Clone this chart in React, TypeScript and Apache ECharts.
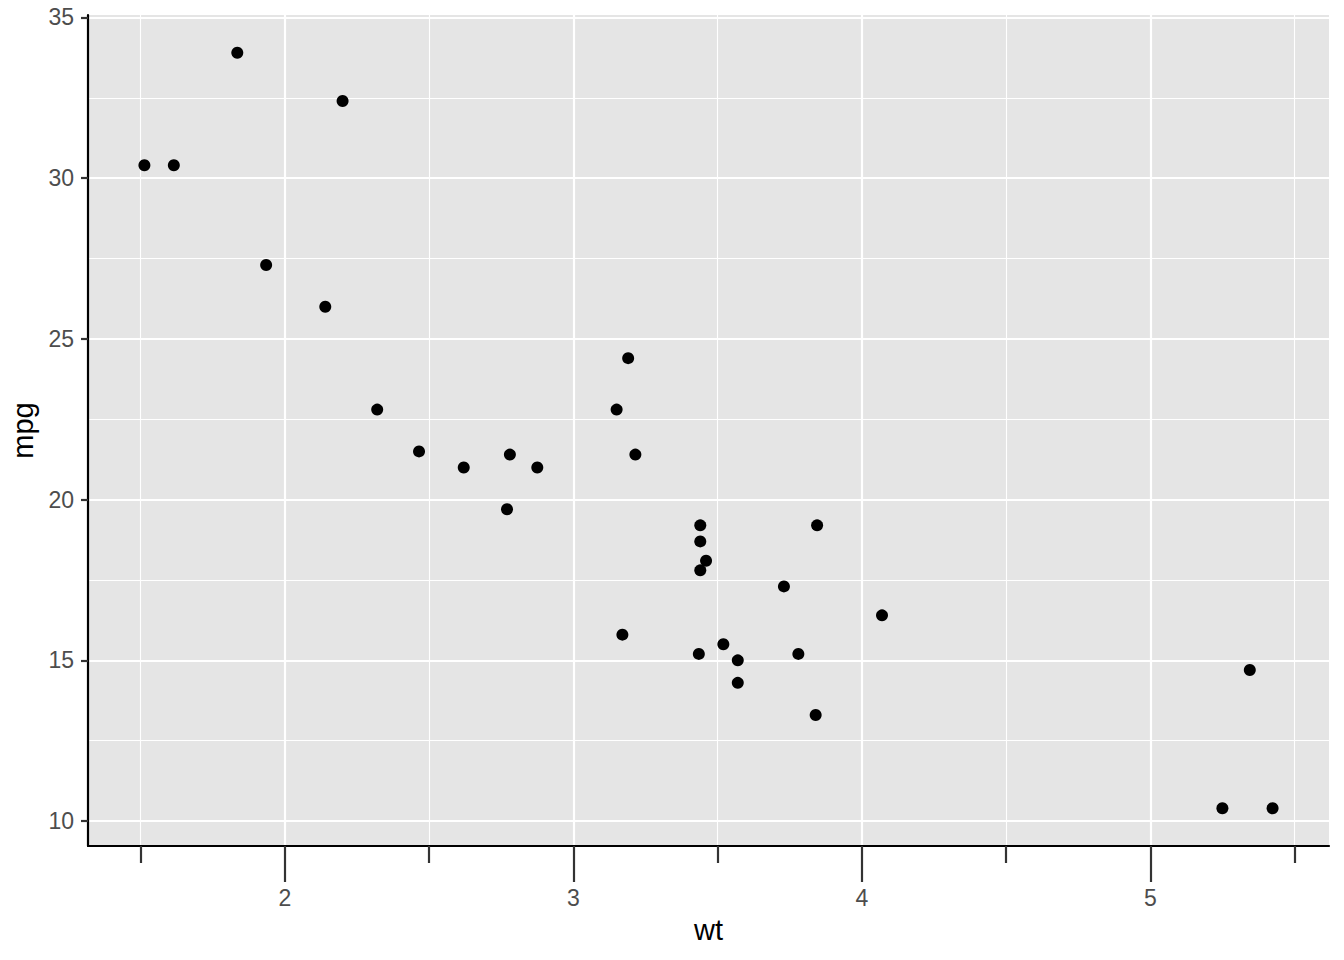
import * as echarts from 'echarts';
import { useEffect, useRef } from 'react';

// mtcars: weight (1000 lbs) vs miles per gallon
const wt = [
  2.62, 2.875, 2.32, 3.215, 3.44, 3.46, 3.57, 3.19, 3.15, 3.44, 3.44, 4.07, 3.73, 3.78, 5.25, 5.424,
  5.345, 2.2, 1.615, 1.835, 2.465, 3.52, 3.435, 3.84, 3.845, 1.935, 2.14, 1.513, 3.17, 2.77, 3.57, 2.78,
];
const mpg = [
  21.0, 21.0, 22.8, 21.4, 18.7, 18.1, 14.3, 24.4, 22.8, 19.2, 17.8, 16.4, 17.3, 15.2, 10.4, 10.4,
  14.7, 32.4, 30.4, 33.9, 21.5, 15.5, 15.2, 13.3, 19.2, 27.3, 26.0, 30.4, 15.8, 19.7, 15.0, 21.4,
];

const xMajor = [2, 3, 4, 5];
const xMinor = [1.5, 2.5, 3.5, 4.5, 5.5];
const yMajor = [10, 15, 20, 25, 30, 35];
const yMinor = [12.5, 17.5, 22.5, 27.5, 32.5];

const font = "'Liberation Sans', Arial, Helvetica, sans-serif";
const lineW = 2.2;

// ggplot-style 5% expansion of the data range
function expand(values: number[]): [number, number] {
  const lo = Math.min(...values);
  const hi = Math.max(...values);
  const pad = (hi - lo) * 0.05;
  return [lo - pad, hi + pad];
}

function buildOption() {
  const [xMin, xMax] = expand(wt);
  const [yMin, yMax] = expand(mpg);
  const label = { fontFamily: font, fontSize: 23, color: '#4d4d4d' };
  return {
    animation: false,
    grid: {
      left: 88,
      right: 15,
      top: 15,
      bottom: 114,
      show: true,
      backgroundColor: '#e5e5e5',
      borderWidth: 0,
    },
    xAxis: [
      {
        type: 'value',
        position: 'bottom',
        min: xMin,
        max: xMax,
        name: 'wt',
        nameLocation: 'middle',
        nameGap: 69,
        nameTextStyle: { fontFamily: font, fontSize: 29, color: '#000' },
        axisLine: { show: true, onZero: false, lineStyle: { color: '#000', width: lineW } },
        axisTick: { show: true, length: 36, customValues: xMajor, lineStyle: { color: '#333', width: lineW } },
        axisLabel: { ...label, margin: 40, customValues: xMajor },
        splitLine: { show: true, lineStyle: { color: '#fff', width: lineW } },
      },
      {
        type: 'value',
        position: 'bottom',
        min: xMin,
        max: xMax,
        axisLine: { show: false },
        axisTick: { show: true, length: 17, customValues: xMinor, lineStyle: { color: '#333', width: lineW } },
        axisLabel: { show: false, customValues: xMinor },
        splitLine: { show: true, lineStyle: { color: '#fff', width: 1.1 } },
      },
    ],
    yAxis: [
      {
        type: 'value',
        position: 'left',
        min: yMin,
        max: yMax,
        name: 'mpg',
        nameLocation: 'middle',
        nameGap: 50,
        nameRotate: 90,
        nameTextStyle: { fontFamily: font, fontSize: 29, color: '#000' },
        axisLine: { show: true, onZero: false, lineStyle: { color: '#000', width: lineW } },
        axisTick: { show: true, length: 7, customValues: yMajor, lineStyle: { color: '#333', width: lineW } },
        axisLabel: { ...label, margin: 14, customValues: yMajor },
        splitLine: { show: true, lineStyle: { color: '#fff', width: lineW } },
      },
      {
        type: 'value',
        position: 'left',
        min: yMin,
        max: yMax,
        axisLine: { show: false },
        axisTick: { show: false, customValues: yMinor },
        axisLabel: { show: false, customValues: yMinor },
        splitLine: { show: true, lineStyle: { color: '#fff', width: 1.1 } },
      },
    ],
    series: [
      {
        type: 'scatter',
        xAxisIndex: 0,
        yAxisIndex: 0,
        symbolSize: 12,
        itemStyle: { color: '#000', opacity: 1 },
        data: wt.map((w, i) => [w, mpg[i]]),
      },
    ],
  };
}

export default function App() {
  const ref = useRef<HTMLDivElement | null>(null);

  useEffect(() => {
    if (!ref.current) return;
    const chart = echarts.init(ref.current, undefined, { renderer: 'svg' });
    chart.setOption(buildOption());
    return () => chart.dispose();
  }, []);

  return (
    <div
      ref={ref}
      style={{ position: 'fixed', left: 0, top: 0, width: 1344, height: 960, background: '#fff' }}
    />
  );
}
